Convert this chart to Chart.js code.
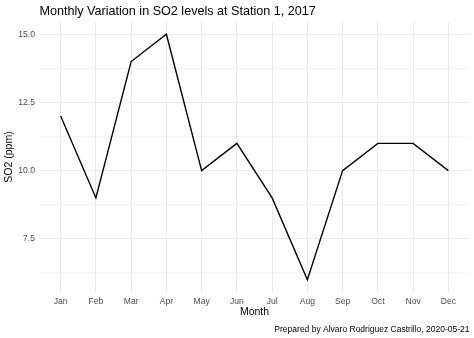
<!DOCTYPE html>
<html>
<head>
<meta charset="utf-8">
<script src="https://cdn.jsdelivr.net/npm/chart.js@4.4.1/dist/chart.umd.min.js"></script>
<style>
	body { margin: 0; background: #fff; }
	#wrap { width: 474px; height: 338px; }
</style>
</head>
<body>
<div id="wrap"><canvas id="so2Chart" width="474" height="338"></canvas></div>
<script>
var months = ['Jan', 'Feb', 'Mar', 'Apr', 'May', 'Jun', 'Jul', 'Aug', 'Sep', 'Oct', 'Nov', 'Dec'];
var so2Values = [12, 9, 14, 15, 10, 11, 9, 6, 10, 11, 11, 10];
var yMajorTicks = [7.5, 10.0, 12.5, 15.0];
var yMinorTicks = [6.25, 8.75, 11.25, 13.75];

var chartTitle = 'Monthly Variation in SO2 levels at Station 1, 2017';
var chartCaption = 'Prepared by Alvaro Rodriguez Castrillo, 2020-05-21';
var fontName = '"Liberation Sans", Arial, sans-serif';

var so2 = {};

so2.isMajor = function(v){
	for (var i = 0; i < yMajorTicks.length; i++)
	{
		if (Math.abs(yMajorTicks[i] - v) < 1e-6) return true;
	}
	return false;
};

// title and caption sit outside the scales, like ggplot does it
so2.textPlugin = {
	id: 'ggText',
	afterDraw: function(chart){
		var ctx = chart.ctx;
		var area = chart.chartArea;
		ctx.save();
		ctx.fillStyle = '#000';
		ctx.textBaseline = 'alphabetic';
		ctx.font = '12.6px ' + fontName;
		ctx.textAlign = 'left';
		ctx.fillText(chartTitle, area.left, 14.5);
		ctx.font = '8.5px ' + fontName;
		ctx.textAlign = 'right';
		ctx.fillText(chartCaption, area.right, 331.5);
		ctx.restore();
	}
};

so2.init = function(){
	var points = months.map(function(m, i){
		return {x: i, y: so2Values[i]};
	});
	var allTicks = yMinorTicks.concat(yMajorTicks).sort(function(a, b){ return a - b; });

	so2.chart = new Chart(document.getElementById('so2Chart'), {
		type: 'line',
		data: {
			datasets: [{
				data: points,
				borderColor: '#000',
				borderWidth: 1.4,
				pointRadius: 0,
				tension: 0,
				fill: false
			}]
		},
		options: {
			responsive: false,
			animation: false,
			layout: { padding: { left: 0, right: 4.5, top: 22, bottom: 0 } },
			plugins: {
				legend: { display: false },
				tooltip: { enabled: false },
				title: { display: false }
			},
			scales: {
				x: {
					type: 'linear',
					min: -0.6,
					max: 11.6,
					afterBuildTicks: function(scale){
						scale.ticks = months.map(function(m, i){ return {value: i}; });
					},
					afterFit: function(scale){ scale.height = 46; },
					grid: { color: '#EBEBEB', lineWidth: 1, drawTicks: false },
					border: { display: false },
					ticks: {
						autoSkip: false,
						maxRotation: 0,
						padding: 4.5,
						color: '#4D4D4D',
						font: { family: fontName, size: 8.6 },
						callback: function(v){ return months[v]; }
					},
					title: {
						display: true,
						text: 'Month',
						color: '#000',
						font: { family: fontName, size: 10.5 },
						padding: { top: 0, bottom: 19.4 }
					}
				},
				y: {
					min: 5.55,
					max: 15.45,
					afterBuildTicks: function(scale){
						scale.ticks = allTicks.map(function(v){ return {value: v}; });
					},
					afterFit: function(scale){ scale.width = 39.5; },
					grid: {
						drawTicks: false,
						color: '#EBEBEB',
						lineWidth: function(c){
							return (c.tick && so2.isMajor(c.tick.value)) ? 1 : 0.5;
						}
					},
					border: { display: false },
					ticks: {
						padding: 4.5,
						color: '#4D4D4D',
						font: { family: fontName, size: 8.6 },
						callback: function(v){
							return so2.isMajor(v) ? v.toFixed(1) : '';
						}
					},
					title: {
						display: true,
						text: 'SO2 (ppm)',
						color: '#000',
						font: { family: fontName, size: 10.5 },
						padding: { top: 2.7, bottom: 0 }
					}
				}
			}
		},
		plugins: [so2.textPlugin]
	});
};

so2.init();
</script>
</body>
</html>
